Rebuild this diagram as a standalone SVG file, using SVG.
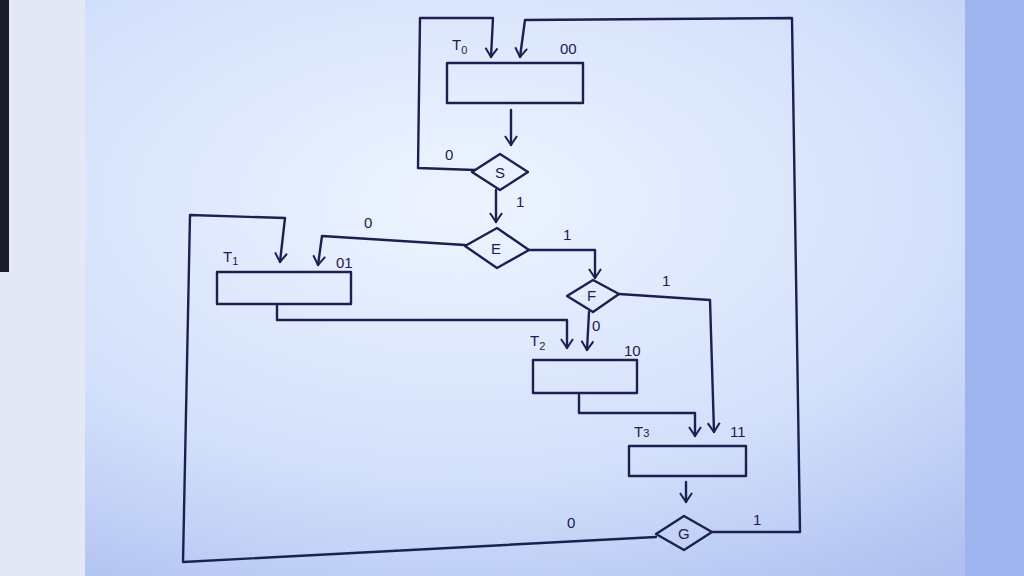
<svg xmlns="http://www.w3.org/2000/svg" width="1024" height="576" viewBox="0 0 1024 576">
<defs>
<radialGradient id="bg" cx="0.45" cy="0.35" r="0.8">
<stop offset="0" stop-color="#eef4ff"/><stop offset="0.6" stop-color="#d3e0fb"/><stop offset="1" stop-color="#aebff0"/>
</radialGradient>
<marker id="ah" viewBox="0 0 12 14" refX="11" refY="7" markerWidth="12" markerHeight="14" orient="auto" markerUnits="userSpaceOnUse">
<path d="M2,1 L11,7 L2,13" fill="none" stroke="#1c2050" stroke-width="2"/>
</marker>
<style>
.l{fill:none;stroke:#1c2050;stroke-width:2.4;stroke-linejoin:round;stroke-linecap:round}
.a{marker-end:url(#ah)}
.t{font-family:"Liberation Sans",sans-serif;font-size:15px;fill:#1c2050}
</style>
</defs>
<rect width="1024" height="576" fill="url(#bg)"/>
<rect x="0" y="0" width="85" height="576" fill="#e4e8f4"/>
<rect x="0" y="0" width="9" height="272" fill="#1a1a2a"/>
<rect x="965" y="0" width="59" height="576" fill="#9fb4ee"/>
<g id="connectors">
<polyline class="l a" points="475,170 418,168 420,18 493,18 491,57"/>
<polyline class="l a" points="713,532 800,532 792,18 525,20 520,57"/>
<polyline class="l a" points="511,110 511,145"/>
<polyline class="l a" points="496,190 496,222"/>
<polyline class="l a" points="465,245 322,236 318,265"/>
<polyline class="l a" points="529,250 595,250 595,278"/>
<polyline class="l a" points="656,537 183,562 190,215 285,218 280,262"/>
<polyline class="l a" points="277,305 277,320 567,320 567,348"/>
<polyline class="l a" points="619,294 710,300 714,432"/>
<polyline class="l a" points="589,312 587,350"/>
<polyline class="l a" points="579,395 579,413 695,413 695,436"/>
<polyline class="l a" points="686,482 686,502"/>
</g>
<g id="T0"><rect class="l" x="447" y="63" width="136" height="40"/><text class="t" x="452" y="50">T<tspan font-size="11" dy="4">0</tspan></text><text class="t" x="560" y="54">00</text></g>
<g id="S"><polygon class="l" points="472,172 500,154 528,172 500,190"/><text class="t" x="495" y="178">S</text><text class="t" x="445" y="160">0</text><text class="t" x="516" y="207">1</text></g>
<g id="E"><polygon class="l" points="465,246 497,228 529,250 497,268"/><text class="t" x="491" y="254">E</text><text class="t" x="364" y="228">0</text><text class="t" x="563" y="240">1</text></g>
<g id="T1"><rect class="l" x="217" y="272" width="134" height="32"/><text class="t" x="223" y="262" font-size="18">T<tspan font-size="11" dy="3">1</tspan></text><text class="t" x="336" y="268">01</text></g>
<g id="F"><polygon class="l" points="567,296 593,280 619,294 593,312"/><text class="t" x="587" y="301">F</text><text class="t" x="662" y="286">1</text><text class="t" x="592" y="331">0</text></g>
<g id="T2"><rect class="l" x="533" y="360" width="104" height="33"/><text class="t" x="530" y="346">T<tspan font-size="11" dy="4">2</tspan></text><text class="t" x="624" y="356">10</text></g>
<g id="T3"><rect class="l" x="629" y="446" width="117" height="30"/><text class="t" x="634" y="437">T<tspan font-size="11">3</tspan></text><text class="t" x="730" y="437">11</text></g>
<g id="G"><polygon class="l" points="656,534 684,516 712,532 684,550"/><text class="t" x="678" y="539">G</text><text class="t" x="567" y="528">0</text><text class="t" x="753" y="525">1</text></g>
</svg>
